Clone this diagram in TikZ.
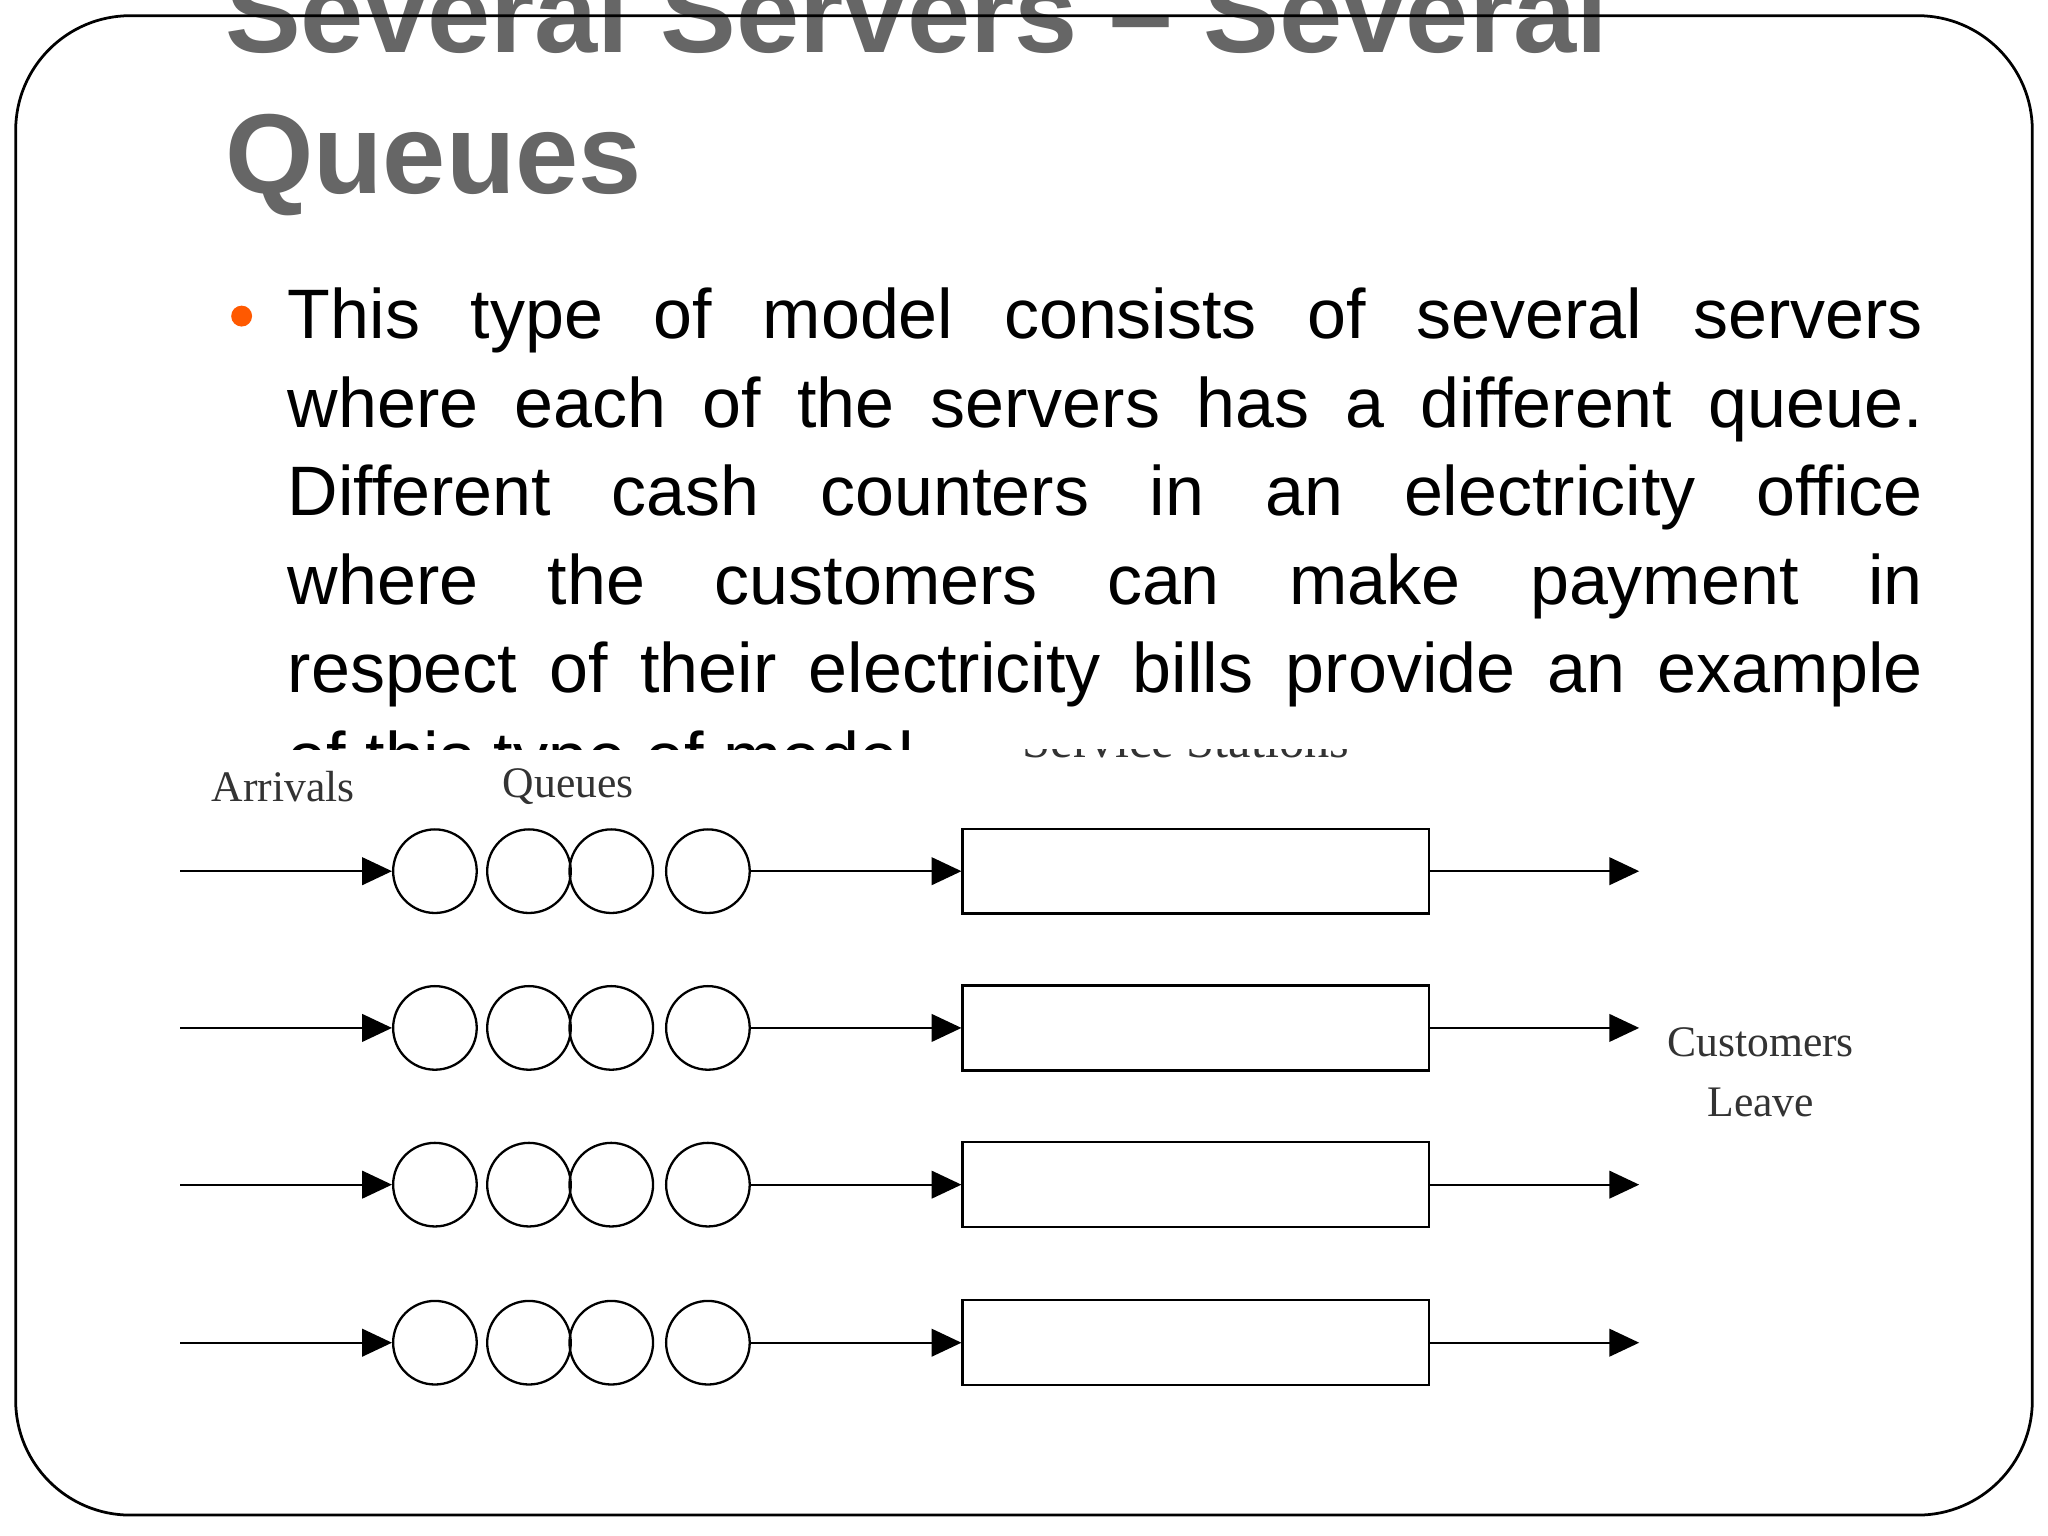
\documentclass[tikz,border=0pt]{standalone}
\usepackage{fontspec}
\setmainfont{Liberation Sans}
\newfontfamily\serif{Liberation Serif}
\usetikzlibrary{arrows.meta}
\begin{document}
\begin{tikzpicture}[x=0.02cm,y=-0.02cm,
  arr/.style={line width=1pt,-{Triangle[length=13pt,width=12pt]}},
  q/.style={circle,draw,line width=1pt,minimum size=64*0.02cm,inner sep=0},
  srv/.style={draw,line width=1pt,minimum width=357*0.02cm,minimum height=65*0.02cm,inner sep=0},
  lab/.style={font=\serif\fontsize{19}{22}\selectfont,text=black!80}]
\useasboundingbox (0,0) rectangle (1568,1176);
\fill[white] (0,0) rectangle (1568,1176);
\begin{scope}
\clip (0,0) rectangle (1568,1176);
\node[anchor=base west,inner sep=0,text=black!60,font=\bfseries\fontsize{49.5}{50}\selectfont] (t1) at (172,40) {Several Servers – Several};
\node[anchor=base west,inner sep=0,text=black!60,font=\bfseries\fontsize{49.5}{50}\selectfont] (t2) at (172,148) {Queues};
\end{scope}
\fill[orange!70!red] (185,242) circle (8);
\node[anchor=north west,inner sep=0,text width=25.04cm,align=justify,font=\fontsize{30.5}{38.6}\selectfont] (para) at (220,220)
{\hyphenpenalty=10000 This type of model consists of several servers\linebreak where each of the servers has a different queue.\linebreak Different cash counters in an electricity office\linebreak where the customers can make payment in\linebreak respect of their electricity bills provide an example\linebreak of this type of model.};
\fill[white] (110,574) rectangle (1545,1100);
\begin{scope}
\clip (110,574) rectangle (1545,1100);
\node[anchor=base,lab,font=\serif\fontsize{22}{24}\selectfont] (ss) at (908,580) {Service Stations};
\end{scope}
\draw[line width=1.2pt,rounded corners=50] (12,12) rectangle (1556,1160);
\node[lab] (arr) at (217,602) {Arrivals};
\node[lab] (que) at (435,602) {Queues};
\node[lab,align=center,font=\serif\fontsize{19}{26}\selectfont] (cl) at (1348,821) {Customers\\Leave};
\foreach \i/\y in {1/667,2/787,3/907,4/1028}{
  \coordinate (s\i) at (138,\y);
  \node[q] (a\i) at (333,\y) {};
  \node[q] (b\i) at (405,\y) {};
  \node[q] (c\i) at (468,\y) {};
  \node[q] (d\i) at (542,\y) {};
  \node[srv] (r\i) at (915.5,\y) {};
  \coordinate (e\i) at (1255,\y);
  \draw[arr] (s\i) -- (a\i);
  \draw[arr] (d\i) -- (r\i);
  \draw[arr] (r\i) -- (e\i);
}
\end{tikzpicture}
\end{document}
